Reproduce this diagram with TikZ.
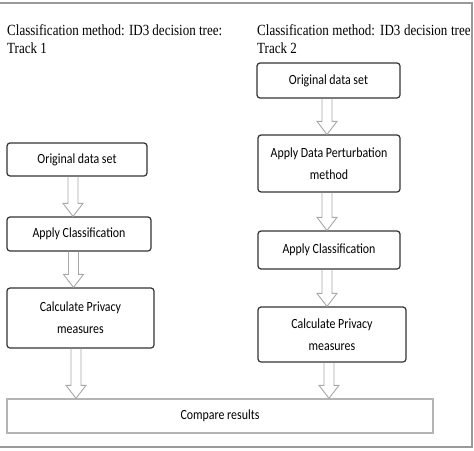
\documentclass[tikz,border=0pt]{standalone}
\usepackage{fontspec}
\setmainfont{Liberation Serif}
\newfontfamily\boxfont[FakeStretch=0.85]{Carlito}
\newfontfamily\titlefont[FakeStretch=0.84]{Liberation Serif}
\usetikzlibrary{calc}
\definecolor{boxc}{HTML}{333333}
\definecolor{arrc}{HTML}{A8A8A8}
\definecolor{cmpc}{HTML}{B4B4B4}
\definecolor{framec}{HTML}{9A9A9A}
\newcommand\barrow[3]{\draw[arr] let \p1=($(#1.south)+(#3,0)$), \p2=(#2.north) in
  (\x1-5pt,\y1) -- (\x1-5pt,\y2+13pt) -- (\x1-10pt,\y2+13pt) -- (\x1,\y2)
  -- (\x1+10pt,\y2+13pt) -- (\x1+5pt,\y2+13pt) -- (\x1+5pt,\y1);}
\begin{document}
\begin{tikzpicture}[x=1pt,y=-1pt,
  box/.style={draw=boxc, line width=1.2pt, rounded corners=3pt,
    font=\boxfont\fontsize{14}{22}\selectfont, align=center, inner sep=0pt},
  cmpbox/.style={draw=cmpc, line width=1.3pt,
    font=\boxfont\fontsize{14}{22}\selectfont, align=center, inner sep=0pt},
  arr/.style={draw=arrc, line width=0.9pt, line join=miter},
  title/.style={font=\titlefont\fontsize{15.5}{18}\selectfont, inner sep=0pt, anchor=base west}]
\useasboundingbox (0,0) rectangle (474,450);
\fill[white] (0,0) rectangle (474,450);
% titles
\node[title] (t1a) at (7,35) {\makebox[215pt][s]{Classification method: ID3 decision tree:}};
\node[title] (t1b) at (7,53) {Track 1};
\node[title] (t2a) at (257,35) {\makebox[217pt][s]{Classification method: ID3 decision tree:}};
\node[title] (t2b) at (257,53) {Track 2};
% left track
\node[box, minimum width=140pt, minimum height=33pt] (l1) at (77,159.5) {Original data set};
\node[box, minimum width=144pt, minimum height=34pt] (l2) at (79,234) {Apply Classification};
\node[box, minimum width=147pt, minimum height=60pt] (l3) at (80.5,318) {Calculate Privacy\\measures};
% right track
\node[box, minimum width=143pt, minimum height=35pt] (r1) at (328.5,80.5) {Original data set};
\node[box, minimum width=142pt, minimum height=57pt] (r2) at (329,163.5) {Apply Data Perturbation\\method};
\node[box, minimum width=142pt, minimum height=38pt] (r3) at (329,250) {Apply Classification};
\node[box, minimum width=148pt, minimum height=55pt] (r4) at (332,334.5) {Calculate Privacy\\measures};
% compare
\node[cmpbox, minimum width=426pt, minimum height=34pt] (cmp) at (220,416) {Compare results};
% arrows
\barrow{l1}{l2}{-4}
\barrow{l2}{l3}{-5.5}
\barrow{l3}{cmp}{-4.5}
\barrow{r1}{r2}{-1.5}
\barrow{r2}{r3}{-2}
\barrow{r3}{r4}{-2}
\barrow{r4}{cmp}{-3}
% frame
\draw[framec, line width=2pt] (-2,3) -- (472,3) -- (472,447) -- (-2,447);
\end{tikzpicture}
\end{document}
